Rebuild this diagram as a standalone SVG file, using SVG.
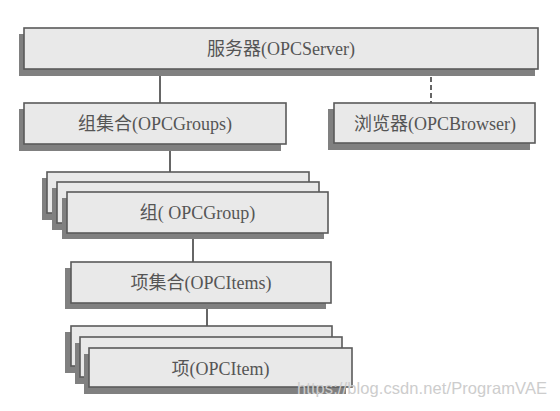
<svg xmlns="http://www.w3.org/2000/svg" width="560" height="411" viewBox="0 0 560 411">
<style>
.box{fill:#e9e9e9;stroke:#5a5a5a;stroke-width:1.6}
.sh{fill:#808080}
.t{font-family:"Liberation Serif","Noto Sans CJK SC",serif;font-size:18px;fill:#555;text-anchor:middle}
.c{stroke:#333;stroke-width:1.5;fill:none}
.wm{font-family:"Liberation Sans",Arial,sans-serif;font-size:16.5px;fill:#cdcdcd}
</style>
<rect width="560" height="411" fill="#fff"/>
<g id="connectors">
<line class="c" x1="160" y1="69" x2="160" y2="103"/>
<line class="c" x1="431" y1="69" x2="431" y2="103" stroke-dasharray="5,3"/>
<line class="c" x1="170" y1="144" x2="170" y2="182"/>
<line class="c" x1="193" y1="233" x2="193" y2="262"/>
<line class="c" x1="207" y1="303" x2="207" y2="337"/>
</g>
<g id="server">
<rect class="sh" x="19" y="34" width="516" height="42"/>
<rect class="box" x="24" y="28" width="514" height="41"/>
<text class="t" x="281" y="55">服务器(OPCServer)</text>
</g>
<g id="groups">
<rect class="sh" x="19" y="109" width="262" height="42"/>
<rect class="box" x="24" y="103" width="262" height="41"/>
<text class="t" x="155" y="130">组集合(OPCGroups)</text>
</g>
<g id="browser">
<rect class="sh" x="328" y="109" width="202" height="41"/>
<rect class="box" x="334" y="103" width="201" height="40"/>
<text class="t" x="435" y="129.5">浏览器(OPCBrowser)</text>
</g>
<g id="group">
<rect class="sh" x="42" y="178" width="262" height="42"/>
<rect class="box" x="47" y="172" width="262" height="41"/>
<rect class="sh" x="52" y="188" width="262" height="42"/>
<rect class="box" x="57" y="182" width="262" height="41"/>
<rect class="sh" x="62" y="198" width="262" height="41"/>
<rect class="box" x="67" y="192" width="261" height="41"/>
<text class="t" x="197.5" y="219">组( OPCGroup)</text>
</g>
<g id="items">
<rect class="sh" x="65" y="268" width="261" height="41"/>
<rect class="box" x="71" y="262" width="260" height="41"/>
<text class="t" x="201" y="289">项集合(OPCItems)</text>
</g>
<g id="item">
<rect class="sh" x="65" y="332" width="261" height="41"/>
<rect class="box" x="71" y="326" width="261" height="40"/>
<rect class="sh" x="75" y="343" width="262" height="41"/>
<rect class="box" x="80" y="337" width="262" height="40"/>
<rect class="sh" x="84" y="354" width="262" height="40"/>
<rect class="box" x="89" y="348" width="263" height="39"/>
<text class="t" x="220.5" y="374.5">项(OPCItem)</text>
</g>
<text class="wm" x="297" y="394" textLength="250">https://blog.csdn.net/ProgramVAE</text>
</svg>
